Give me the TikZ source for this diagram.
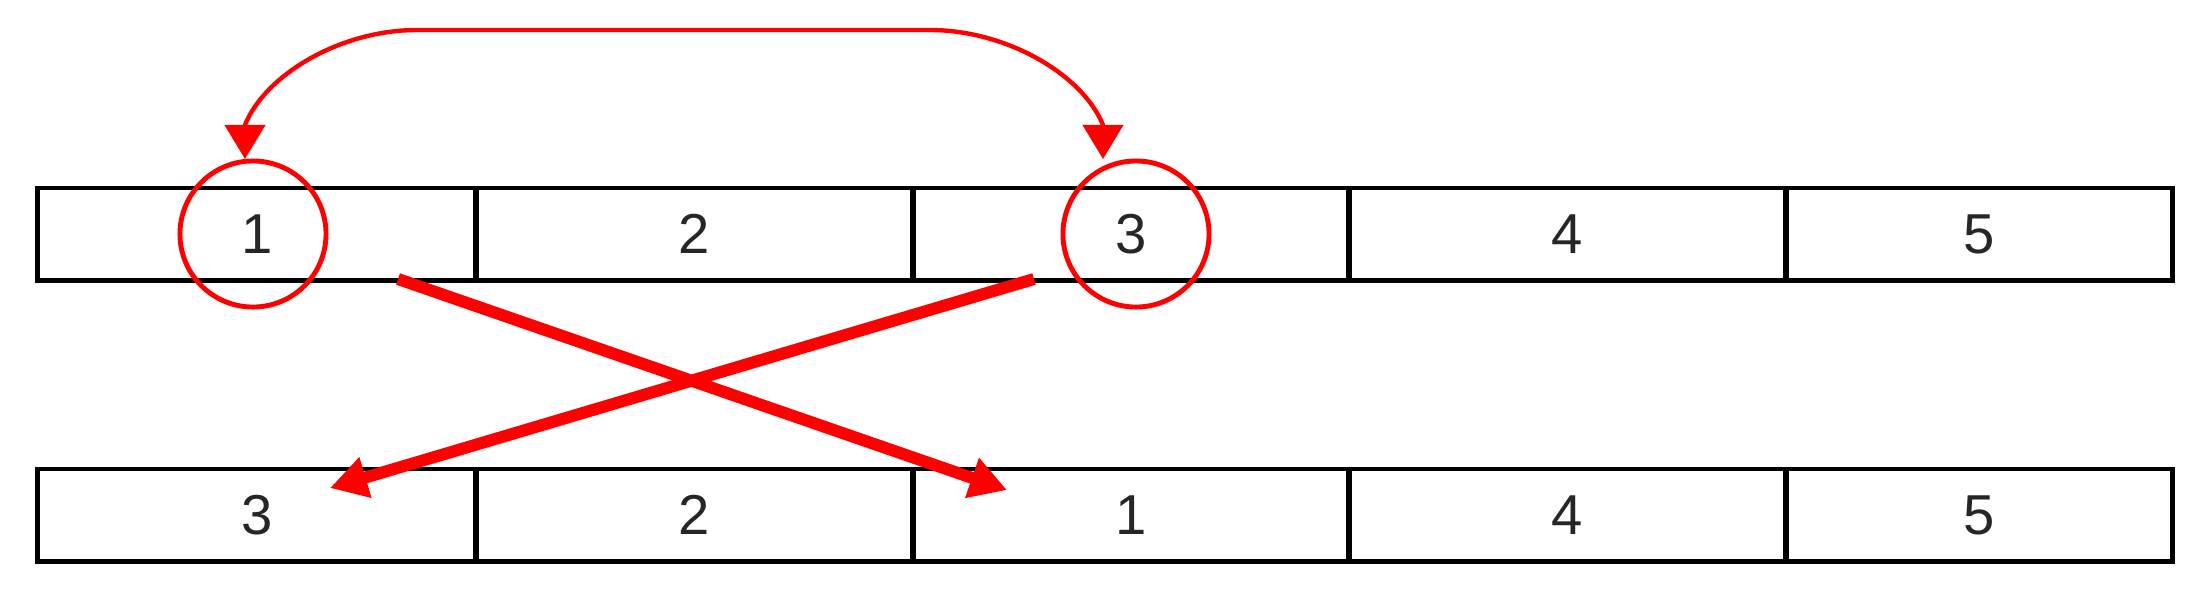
\documentclass[tikz,border=0pt]{standalone}
\usepackage{fontspec}
\setmainfont{Liberation Sans}
\usetikzlibrary{arrows.meta}
\begin{document}
\begin{tikzpicture}[x=0.01cm,y=-0.01cm,
  cell/.style={draw=black, line width=1.4pt, minimum height=0.92cm, inner sep=0pt,
    font=\fontsize{16}{16}\selectfont, text=black!85},
  ring/.style={draw=red, circle, line width=1.4pt, minimum size=1.46cm, inner sep=0pt},
  swaparc/.style={draw=red, line width=1.25pt, {Triangle[length=0.34cm,width=0.40cm]}-{Triangle[length=0.34cm,width=0.40cm]}},
  movearrow/.style={draw=red, line width=3.4pt, -{Triangle[length=0.37cm,width=0.40cm]}}]
\useasboundingbox (0,0) rectangle (2205,596);
% top row
\node[cell, minimum width=4.38cm] (t1) at (257,234) {1};
\node[cell, minimum width=4.37cm] (t2) at (694.5,234) {2};
\node[cell, minimum width=4.36cm] (t3) at (1131,234) {3};
\node[cell, minimum width=4.37cm] (t4) at (1567.5,234) {4};
\node[cell, minimum width=3.86cm] (t5) at (1979,234) {5};
% bottom row
\node[cell, minimum width=4.38cm] (b1) at (257,515) {3};
\node[cell, minimum width=4.37cm] (b2) at (694.5,515) {2};
\node[cell, minimum width=4.36cm] (b3) at (1131,515) {1};
\node[cell, minimum width=4.37cm] (b4) at (1567.5,515) {4};
\node[cell, minimum width=3.86cm] (b5) at (1979,515) {5};
% circles
\node[ring] (c1) at (253,234) {};
\node[ring] (c3) at (1136,234) {};
% swap arc
\coordinate (h1) at (245,159);
\coordinate (h3) at (1103,159);
\draw[swaparc] (h1) -- (245,125) .. controls (265,75) and (340,30) .. (417,30) -- (930,30) .. controls (1007,30) and (1083,75) .. (1103,125) -- (h3);
% cross arrows
\coordinate (s1) at (398,279);
\coordinate (e1) at (1007,490);
\coordinate (s3) at (1034,279);
\coordinate (e3) at (330,488);
\draw[movearrow] (s1) -- (e1);
\draw[movearrow] (s3) -- (e3);
\end{tikzpicture}
\end{document}
